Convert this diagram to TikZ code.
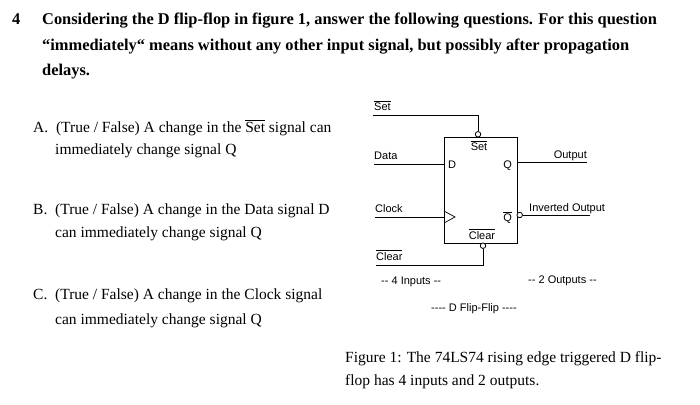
\documentclass[tikz,border=0pt]{standalone}
\usepackage{fontspec}
\setmainfont{Liberation Serif}
\newfontfamily\diag{Liberation Sans}
\begin{document}
\begin{tikzpicture}[x=1pt,y=-1pt,
  txt/.style={anchor=base west,inner sep=0pt,font=\fontsize{15.5}{17}\selectfont},
  hd/.style={anchor=base west,inner sep=0pt,font=\fontsize{16.4}{18}\selectfont\bfseries},
  lab/.style={inner sep=0pt,font=\diag\fontsize{11}{12}\selectfont},
  wire/.style={line width=1pt},
  bub/.style={circle,draw,line width=0.8pt,inner sep=0pt,minimum size=5.5pt,fill=white}]
\useasboundingbox[fill=white] (0,0) rectangle (700,404);
\node[hd] (n4) at (12,25) {4};
\node[hd] (h1) at (42,25) {Considering the D flip-flop in figure 1, answer the following questions. For this question};
\node[hd] (h2) at (42,50) {“immediately“ means without any other input signal, but possibly after propagation};
\node[hd] (h3) at (42,75) {delays.};
\node[txt] (a1) at (33,132) {A.\ \ (True / False) A change in the $\overline{\hbox{Set}}$ signal can};
\node[txt] (a2) at (55,154) {immediately change signal Q};
\node[txt] (b1) at (33,214) {B.\ \ (True / False) A change in the Data signal D};
\node[txt] (b2) at (55,237) {can immediately change signal Q};
\node[txt] (c1) at (33,299) {C.\ \ (True / False) A change in the Clock signal};
\node[txt] (c2) at (55,324) {can immediately change signal Q};
\node[txt] (f1) at (345,362) {Figure 1: The 74LS74 rising edge triggered D flip-};
\node[txt] (f2) at (345,385) {flop has 4 inputs and 2 outputs.};
% flip-flop
\draw[wire] (444,137) rectangle (517,243);
\coordinate (setin) at (373,115);
\coordinate (datain) at (374,164);
\coordinate (clkin) at (375,217);
\coordinate (clrin) at (376,265);
\coordinate (qout) at (587,162);
\coordinate (qbout) at (590,215);
\node[bub] (sb) at (478,134.3) {};
\node[bub] (cb) at (483,245.7) {};
\node[bub] (qb) at (519.7,215) {};
\draw[wire] (setin) -| (sb.north);
\draw[wire] (datain) -- (444,164);
\draw[wire] (clkin) -- (444,217);
\draw[wire] (clrin) -| (cb.south);
\draw[wire] (517,162) -- (qout);
\draw[wire] (qb.east) -- (qbout);
\draw[line width=0.7pt] (444,211) -- (455,217) -- (444,223);
\node[lab,anchor=base west] (lset) at (374,110) {$\overline{\hbox{Set}}$};
\node[lab,anchor=base west] (ldata) at (374,159) {Data};
\node[lab,anchor=base west] (lclk) at (375,212) {Clock};
\node[lab,anchor=base west] (lclr) at (376,260) {$\overline{\hbox{Clear}}$};
\node[lab,anchor=base] (iset) at (479,150) {$\overline{\hbox{Set}}$};
\node[lab,anchor=base west] (iD) at (448,168) {D};
\node[lab,anchor=base east] (iQ) at (512,168) {Q};
\node[lab,anchor=base east] (iQb) at (512,221) {$\overline{\hbox{Q}}$};
\node[lab,anchor=base] (iclr) at (482,239) {$\overline{\hbox{Clear}}$};
\node[lab,anchor=base east] (lout) at (587,158) {Output};
\node[lab,anchor=base west] (linv) at (529,211) {Inverted Output};
\node[lab,anchor=base west] (lin4) at (381,284) {-- 4 Inputs --};
\node[lab,anchor=base west] (lout2) at (528,283) {-- 2 Outputs --};
\node[lab,anchor=base west] (ldff) at (431,311) {---- D Flip-Flip ----};
\end{tikzpicture}
\end{document}
